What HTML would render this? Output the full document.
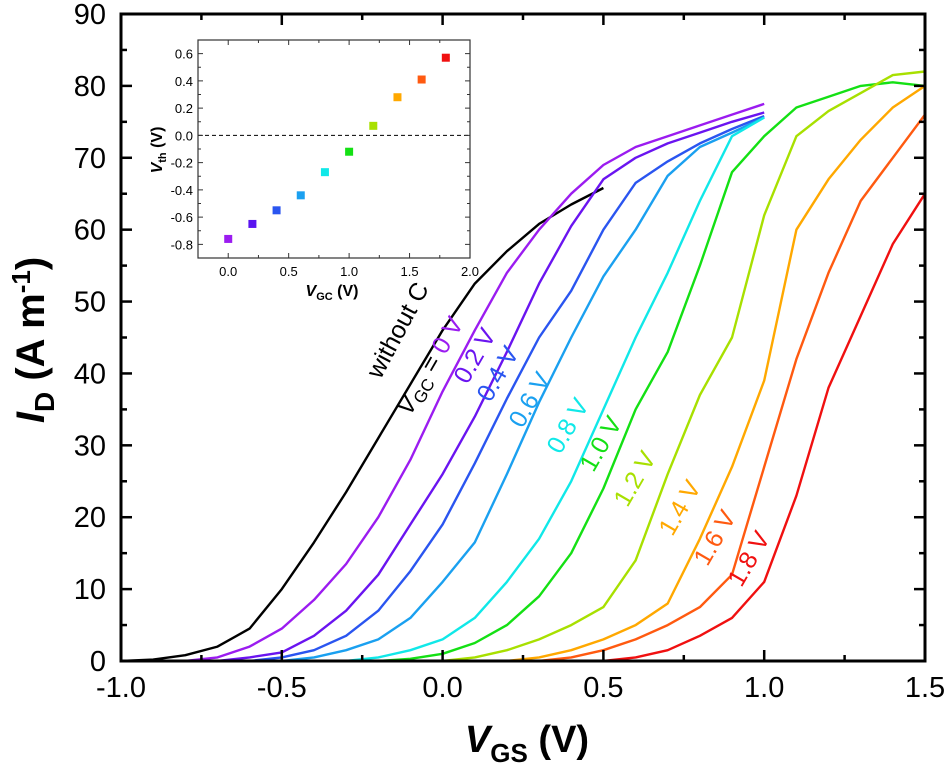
<!DOCTYPE html>
<html><head><meta charset="utf-8"><style>
html,body{margin:0;padding:0;background:#fff;}
svg{display:block;font-family:"Liberation Sans",Arial,sans-serif;}
</style></head><body>
<svg id="c" width="950" height="768"></svg>
<script>
// ---- main chart data ----
const seriesNames = ["without C","0 V","0.2 V","0.4 V","0.6 V","0.8 V","1.0 V","1.2 V","1.4 V","1.6 V","1.8 V"];
const seriesColors = ["#000000","#9b1cf0","#6a14f0","#2a55f0","#1aa0f0","#10e8e8","#14e014","#a8e000","#ffa800","#ff5a10","#f01010"];
const vStart = -1.0, vStep = 0.1;
const curveWithoutC = [0,0.2,0.8,2,4.5,10,16.5,23.5,31,38.5,46,52.5,57,60.8,63.5,65.8];
const curve00 = [0,0,0,0.5,2,4.5,8.5,13.5,20,28,37.5,46,54,60,65,69,71.5,73,74.5,76,77.5];
const curve02 = [0,0,0,0,0.5,1.2,3.5,7,12,19,26,34,43,52.5,60.5,67,70,72,73.5,75,76.3];
const curve04 = [0,0,0,0,0,0.5,1.5,3.5,7,12.5,19,27.5,36.5,45,51.5,60,66.5,69.5,72,74,75.8];
const curve06 = [0,0,0,0,0,0,0.5,1.5,3,6,11,16.5,26,36,45,53.5,60,67.5,71.5,73.5,75.6];
const curve08 = [0,0,0,0,0,0,0,0,0.5,1.5,3,6,11,17,25,35,45,54,64,73,75.6];
const curve10 = [0,0,0,0,0,0,0,0,0,0.3,1,2.5,5,9,15,24,35,43,55,68,73,77,78.5,80,80.5,80];
const curve12 = [0,0,0,0,0,0,0,0,0,0,0,0.5,1.5,3,5,7.5,14,26,37,45,62,73,76.5,79,81.5,82];
const curve14 = [0,0,0,0,0,0,0,0,0,0,0,0,0,0.5,1.5,3,5,8,17,27,39,60,67,72.5,77,80];
const curve16 = [0,0,0,0,0,0,0,0,0,0,0,0,0,0,0.5,1.5,3,5,7.5,12,27,42,54,64,70,76];
const curve18 = [0,0,0,0,0,0,0,0,0,0,0,0,0,0,0,0,0.5,1.5,3.5,6,11,23,38,48,58,65];
const lastV = [0.52,1.0,1.0,1.0,1.0,1.0,1.5,1.5,1.5,1.5,1.5];
const xTicks = [-1.0,-0.5,0.0,0.5,1.0,1.5];
const xTickLabels = ["-1.0","-0.5","0.0","0.5","1.0","1.5"];
const yTicks = [0,10,20,30,40,50,60,70,80,90];
// ---- inset data ----
const insetVgc = [0.0,0.2,0.4,0.6,0.8,1.0,1.2,1.4,1.6,1.8];
const insetVth = [-0.76,-0.65,-0.55,-0.44,-0.27,-0.12,0.07,0.28,0.41,0.57];
const insetColors = ["#9b1cf0","#5a14f0","#2a55f0","#1aa0f0","#10e8e8","#14e014","#a8e000","#ffa800","#ff5a10","#f01010"];
const insetXTicks = ["0.0","0.5","1.0","1.5","2.0"];
const insetYTicks = ["0.6","0.4","0.2","0.0","-0.2","-0.4","-0.6","-0.8"];

const curves = [curveWithoutC,curve00,curve02,curve04,curve06,curve08,curve10,curve12,curve14,curve16,curve18];
const NS="http://www.w3.org/2000/svg";
const svg=document.getElementById('c');
function mk(tag,attrs,parent){const e=document.createElementNS(NS,tag);for(const k in attrs)e.setAttribute(k,attrs[k]);(parent||svg).appendChild(e);return e;}
const X0=121,X1=925,Y0=661,Y1=14;
const xs=v=>X0+(v-(-1))/(2.5)*(X1-X0);
const ys=i=>Y0-i/90*(Y0-Y1);
const ix=v=>198+(v+0.25)/2.25*(470-198);
const iy=v=>258-(v+0.9)/1.6*(258-40);

const gC=mk('g',{});


curves.forEach((arr,k)=>{
  let pts=[];
  arr.forEach((val,j)=>{let v=vStart+j*vStep; if(v>lastV[k]+1e-6) v=lastV[k]; pts.push(xs(v).toFixed(1)+','+ys(val).toFixed(1));});
  const p=mk('polyline',{points:pts.join(' '),fill:'none',stroke:seriesColors[k],'stroke-width':2.4,'stroke-linejoin':'round'},gC);
  
  
});

const fr=mk('rect',{x:X0,y:Y1,width:X1-X0,height:Y0-Y1,fill:'none',stroke:'#000','stroke-width':3});


for(let v=-1;v<=1.5001;v+=0.25){
  const major=Math.abs(v*2-Math.round(v*2))<1e-6; const L=major?11:6;
  mk('line',{x1:xs(v),x2:xs(v),y1:Y0,y2:Y0-L,stroke:'#000','stroke-width':2.5});
  mk('line',{x1:xs(v),x2:xs(v),y1:Y1,y2:Y1+L,stroke:'#000','stroke-width':2.5});
}
xTicks.forEach((v,k)=>{const t=mk('text',{x:xs(v),y:697,'font-size':29,'text-anchor':'middle'});t.textContent=xTickLabels[k];

});
for(let i=0;i<=90;i+=5){
  const L=i%10===0?11:6;
  mk('line',{x1:X0,x2:X0+L,y1:ys(i),y2:ys(i),stroke:'#000','stroke-width':2.5});
  mk('line',{x1:X1,x2:X1-L,y1:ys(i),y2:ys(i),stroke:'#000','stroke-width':2.5});
}
yTicks.forEach(i=>{const t=mk('text',{x:106,y:ys(i)+10,'font-size':29,'text-anchor':'end'});t.textContent=String(i);

});

const ins=mk('g',{});


mk('rect',{x:198,y:40,width:272,height:218,fill:'#fff',stroke:'#333','stroke-width':1.2},ins);
mk('line',{x1:198,x2:470,y1:iy(0),y2:iy(0),stroke:'#000','stroke-width':1,'stroke-dasharray':'4,3'},ins);
for(let v=-0.25;v<=2.0001;v+=0.25){const major=Math.abs(v*2-Math.round(v*2))<1e-6;const L=major?5:3;
  mk('line',{x1:ix(v),x2:ix(v),y1:258,y2:258-L,stroke:'#333'},ins);mk('line',{x1:ix(v),x2:ix(v),y1:40,y2:40+L,stroke:'#333'},ins);}
for(let v=-0.9;v<=0.7001;v+=0.1){const major=Math.abs(v*5-Math.round(v*5))<1e-6;const L=major?5:3;
  mk('line',{x1:198,x2:198+L,y1:iy(v),y2:iy(v),stroke:'#333'},ins);mk('line',{x1:470,x2:470-L,y1:iy(v),y2:iy(v),stroke:'#333'},ins);}
insetXTicks.forEach(s=>{const t=mk('text',{x:ix(parseFloat(s)),y:276,'font-size':13,'text-anchor':'middle'},ins);t.textContent=s;

});
insetYTicks.forEach(s=>{const t=mk('text',{x:193,y:iy(parseFloat(s))+5,'font-size':13,'text-anchor':'end'},ins);t.textContent=s;

});
insetVgc.forEach((v,k)=>{const r=mk('rect',{x:ix(v)-4,y:iy(insetVth[k])-4,width:8,height:8,fill:insetColors[k]},ins);

});
</script>
<svg width="950" height="768" style="position:absolute;left:0;top:0;font-family:'Liberation Sans',Arial,sans-serif">
<text x="332" y="296" font-size="16" font-weight="bold" text-anchor="middle"><tspan font-style="italic">V</tspan><tspan font-size="11" dy="4">GC</tspan><tspan dy="-4"> (V)</tspan></text>
<text transform="translate(162,150) rotate(-90)" font-size="16" font-weight="bold" text-anchor="middle"><tspan font-style="italic">V</tspan><tspan font-size="11" dy="4">th</tspan><tspan dy="-4"> (V)</tspan></text>
<text x="527" y="752" font-size="38" font-weight="bold" text-anchor="middle"><tspan font-style="italic">V</tspan><tspan font-size="26" dy="10">GS</tspan><tspan dy="-10"> (V)</tspan></text>
<text transform="translate(44,340) rotate(-90)" font-size="40" font-weight="bold" text-anchor="middle"><tspan font-style="italic">I</tspan><tspan font-size="28" dy="10">D</tspan><tspan dy="-10"> (A m</tspan><tspan font-size="26" dy="-14">-1</tspan><tspan dy="14">)</tspan></text>
<g font-size="25" text-anchor="middle">
<text transform="translate(405,334) rotate(-62)" fill="#000">without C</text>
<text transform="translate(437,370) rotate(-60)" fill="#000"><tspan font-style="italic">V</tspan><tspan font-size="17" dy="5">GC</tspan><tspan dy="-5"> = </tspan><tspan fill="#9b1cf0">0 V</tspan></text>
<text transform="translate(482,360) rotate(-60)" fill="#6a14f0">0.2 V</text>
<text transform="translate(505,378) rotate(-60)" fill="#2a55f0">0.4 V</text>
<text transform="translate(537,404) rotate(-60)" fill="#1aa0f0">0.6 V</text>
<text transform="translate(575,430) rotate(-60)" fill="#10e8e8">0.8 V</text>
<text transform="translate(608,448) rotate(-60)" fill="#14e014">1.0 V</text>
<text transform="translate(642,483) rotate(-60)" fill="#a8e000">1.2 V</text>
<text transform="translate(687,512) rotate(-60)" fill="#ffa800">1.4 V</text>
<text transform="translate(722,542) rotate(-60)" fill="#ff5a10">1.6 V</text>
<text transform="translate(756,563) rotate(-60)" fill="#f01010">1.8 V</text>
</g>
</svg>
</body></html>
